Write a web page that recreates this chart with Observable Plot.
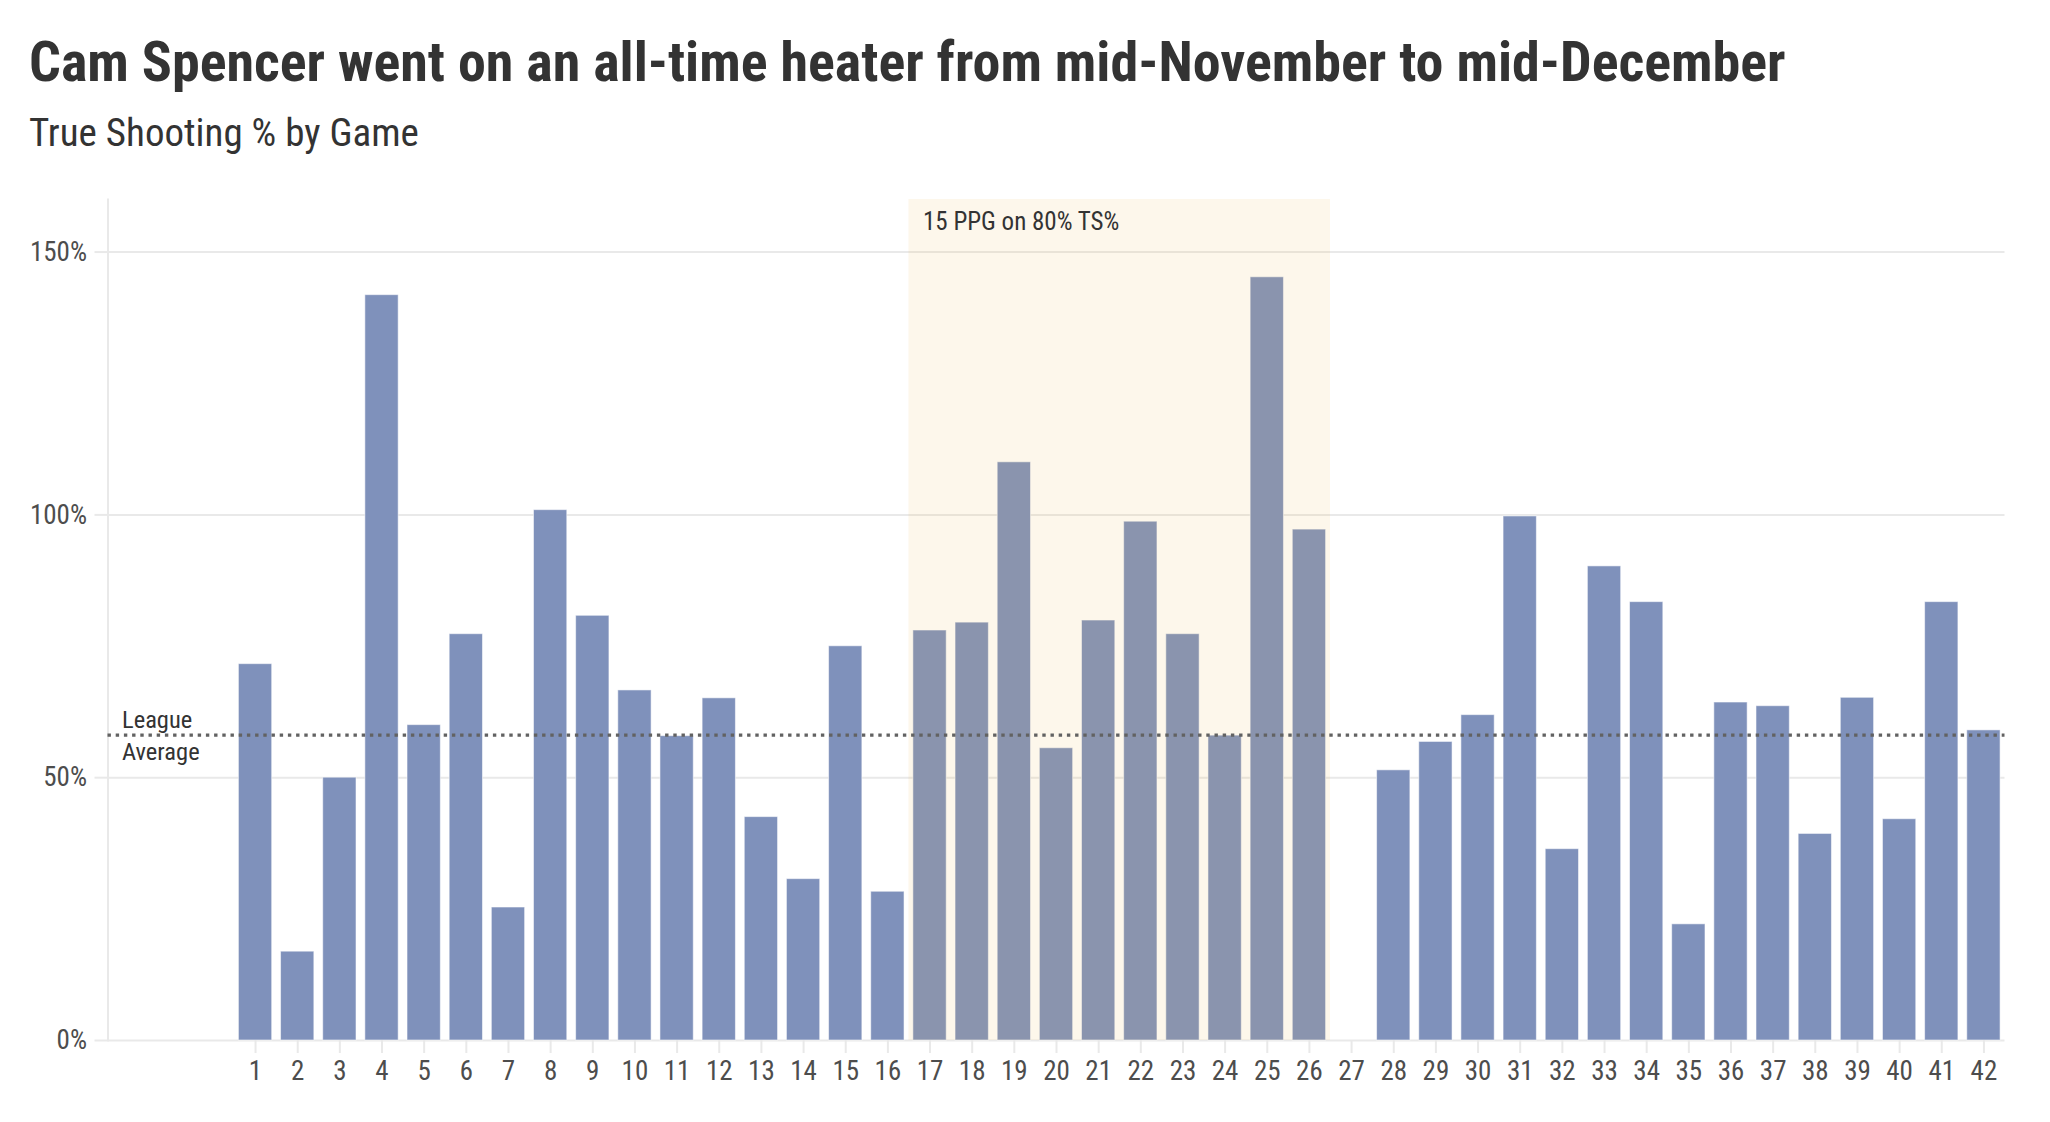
<!DOCTYPE html>
<html>
<head>
<meta charset="utf-8">
<script src="https://cdn.jsdelivr.net/npm/d3@7"></script>
<script src="https://cdn.jsdelivr.net/npm/@observablehq/plot@0.6"></script>
<style>
  html, body { margin: 0; padding: 0; background: #ffffff; }
  body { width: 2050px; height: 1122px; position: relative; overflow: hidden;
         font-family: 'Roboto Condensed', 'Liberation Sans Narrow', 'DejaVu Sans Condensed', Roboto, sans-serif; }
  #header { position: relative; height: 175px; }
  #title { position: absolute; left: 29px; top: 34px; margin: 0; font-size: 56px; line-height: 56px;
           font-weight: 700; color: #333333; white-space: nowrap; }
  #subtitle { position: absolute; left: 29px; top: 114px; margin: 0; font-size: 39px; line-height: 39px;
              font-weight: 400; color: #333333; white-space: nowrap; }
  #chart svg { display: block; }
</style>
</head>
<body>
<div id="header">
  <h1 id="title">Cam Spencer went on an all-time heater from mid-November to mid-December</h1>
  <h2 id="subtitle">True Shooting % by Game</h2>
</div>
<div id="chart"></div>
<script>
// ---- data ----
const games = [1, 2, 3, 4, 5, 6, 7, 8, 9, 10, 11, 12, 13, 14, 15, 16, 17, 18, 19, 20, 21,
               22, 23, 24, 25, 26, 27, 28, 29, 30, 31, 32, 33, 34, 35, 36, 37, 38, 39, 40, 41, 42];
const tsPct = [71.6, 16.9, 50.0, 141.8, 60.0, 77.3, 25.3, 100.9, 80.8, 66.6,
               57.9, 65.1, 42.5, 30.7, 75.0, 28.3, 78.0, 79.5, 110.0, 55.6,
               79.9, 98.7, 77.3, 58.0, 145.2, 97.2, null, 51.4, 56.8, 61.9,
               99.7, 36.4, 90.2, 83.4, 22.1, 64.3, 63.6, 39.3, 65.2, 42.1, 83.4, 59.0];
const yTicks = [0, 50, 100, 150];
const leagueAvg = 58.1;
const leagueLabel = ["League", "Average"];
const heaterStart = 17;
const heaterEnd = 26;
const heaterLabel = "15 PPG on 80% TS%";

const bars = games.map((g, i) => ({game: g, ts: tsPct[i]})).filter(d => d.ts != null);
const heater = [{start: heaterStart, end: heaterEnd, label: heaterLabel}];

const FONT = "'Roboto Condensed', 'Liberation Sans Narrow', 'DejaVu Sans Condensed', Roboto, sans-serif";
const GRID = "#e9e9e9";
const TEXT = "#4d4d4d";

const chart = Plot.plot({
  width: 2050,
  height: 947,
  marginTop: 24,
  marginBottom: 82,
  marginLeft: 107.5,
  marginRight: 45.5,
  style: {fontFamily: FONT, background: "#ffffff", overflow: "visible"},
  x: {type: "linear", domain: [-2.5, 42.5]},
  y: {domain: [0, 160]},
  marks: [
    Plot.gridY(yTicks, {stroke: GRID, strokeOpacity: 1, strokeWidth: 2}),
    Plot.axisY({ticks: yTicks, tickSize: 13, tickPadding: 8, stroke: GRID, strokeWidth: 2,
                fill: TEXT, fontSize: 27, label: null, tickFormat: d => d + "%"}),
    Plot.frame({anchor: "left", stroke: GRID, strokeWidth: 2}),
    Plot.rectY(bars, {x1: d => d.game - 0.395, x2: d => d.game + 0.395, y1: 0, y2: "ts",
                      fill: "#7f91bb", stroke: "#ffffff", strokeOpacity: 0.55, strokeWidth: 1}),
    Plot.rect(heater, {x1: d => d.start - 0.5, x2: d => d.end + 0.5, fill: "#ebaf37", fillOpacity: 0.1}),
    Plot.ruleY([leagueAvg], {stroke: "#626262", strokeWidth: 3.4, strokeDasharray: "3.4,4.8"}),
    Plot.text([leagueAvg], {y: d => d, frameAnchor: "left", text: () => leagueLabel[0],
                            textAnchor: "start", lineAnchor: "bottom", dx: 14, dy: -7,
                            fontSize: 24.5, fill: "#333333"}),
    Plot.text([leagueAvg], {y: d => d, frameAnchor: "left", text: () => leagueLabel[1],
                            textAnchor: "start", lineAnchor: "top", dx: 14, dy: 7,
                            fontSize: 24.5, fill: "#333333"}),
    Plot.text(heater, {x: d => d.start - 0.5, frameAnchor: "top", text: "label",
                       textAnchor: "start", lineAnchor: "top", dx: 14, dy: 13,
                       fontSize: 25, fill: "#333333"}),
    Plot.axisX({ticks: games, tickSize: 13, tickPadding: 7, stroke: GRID, strokeWidth: 2,
                fill: TEXT, fontSize: 27, label: null, tickFormat: d => String(d)})
  ]
});
document.getElementById("chart").appendChild(chart);
</script>
</body>
</html>
